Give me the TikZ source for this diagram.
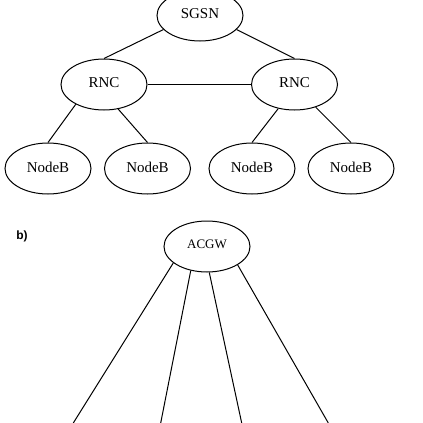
\documentclass[tikz,border=0pt]{standalone}
\usepackage{fontspec}
\setmainfont{Liberation Serif}
\newfontfamily\labfont{Liberation Sans}
\usetikzlibrary{shapes.geometric}
\begin{document}
\begin{tikzpicture}[x=1pt,y=-1pt,
  nd/.style={ellipse,draw,line width=1pt,minimum width=86pt,minimum height=51pt,inner sep=0pt,font=\fontsize{15}{15}\selectfont},
  ndsmall/.style={nd,font=\fontsize{13}{13}\selectfont},
  ln/.style={line width=1pt}]
\useasboundingbox (0,0) rectangle (423,423);
\clip (0,0) rectangle (423,423);
\node[nd] (sgsn) at (200,15.5) {\raisebox{3pt}{SGSN}};
\node[nd] (rncl) at (104,84.5) {\raisebox{3pt}{RNC}};
\node[nd] (rncr) at (294.5,84.5) {\raisebox{3pt}{RNC}};
\node[nd] (nb1) at (48,168.5) {\raisebox{3pt}{NodeB}};
\node[nd] (nb2) at (147.5,168.5) {\raisebox{3pt}{NodeB}};
\node[nd] (nb3) at (252,168.5) {\raisebox{3pt}{NodeB}};
\node[nd] (nb4) at (351,168.5) {\raisebox{3pt}{NodeB}};
\draw[ln] (sgsn.201) -- (rncl.north);
\draw[ln] (sgsn.339) -- (rncr.north);
\draw[ln] (rncl.east) -- (rncr.west);
\draw[ln] (rncl.215) -- (nb1.north);
\draw[ln] (rncl.300) -- (nb2.north);
\draw[ln] (rncr.236) -- (nb3.north);
\draw[ln] (rncr.313) -- (nb4.north);
\node[font=\labfont\bfseries\fontsize{12}{12}\selectfont] (lb) at (22,236) {b)};
\node[ndsmall] (acgw) at (207,246.5) {\raisebox{5pt}{ACGW}};
\coordinate (e1) at (73.3,423);
\coordinate (e2) at (160.7,423);
\coordinate (e3) at (241.7,423);
\coordinate (e4) at (328.3,423);
\draw[ln] (acgw.206) -- (e1);
\draw[ln] (acgw.236) -- (e2);
\draw[ln] (acgw.275) -- (e3);
\draw[ln] (acgw.329) -- (e4);
\end{tikzpicture}
\end{document}
